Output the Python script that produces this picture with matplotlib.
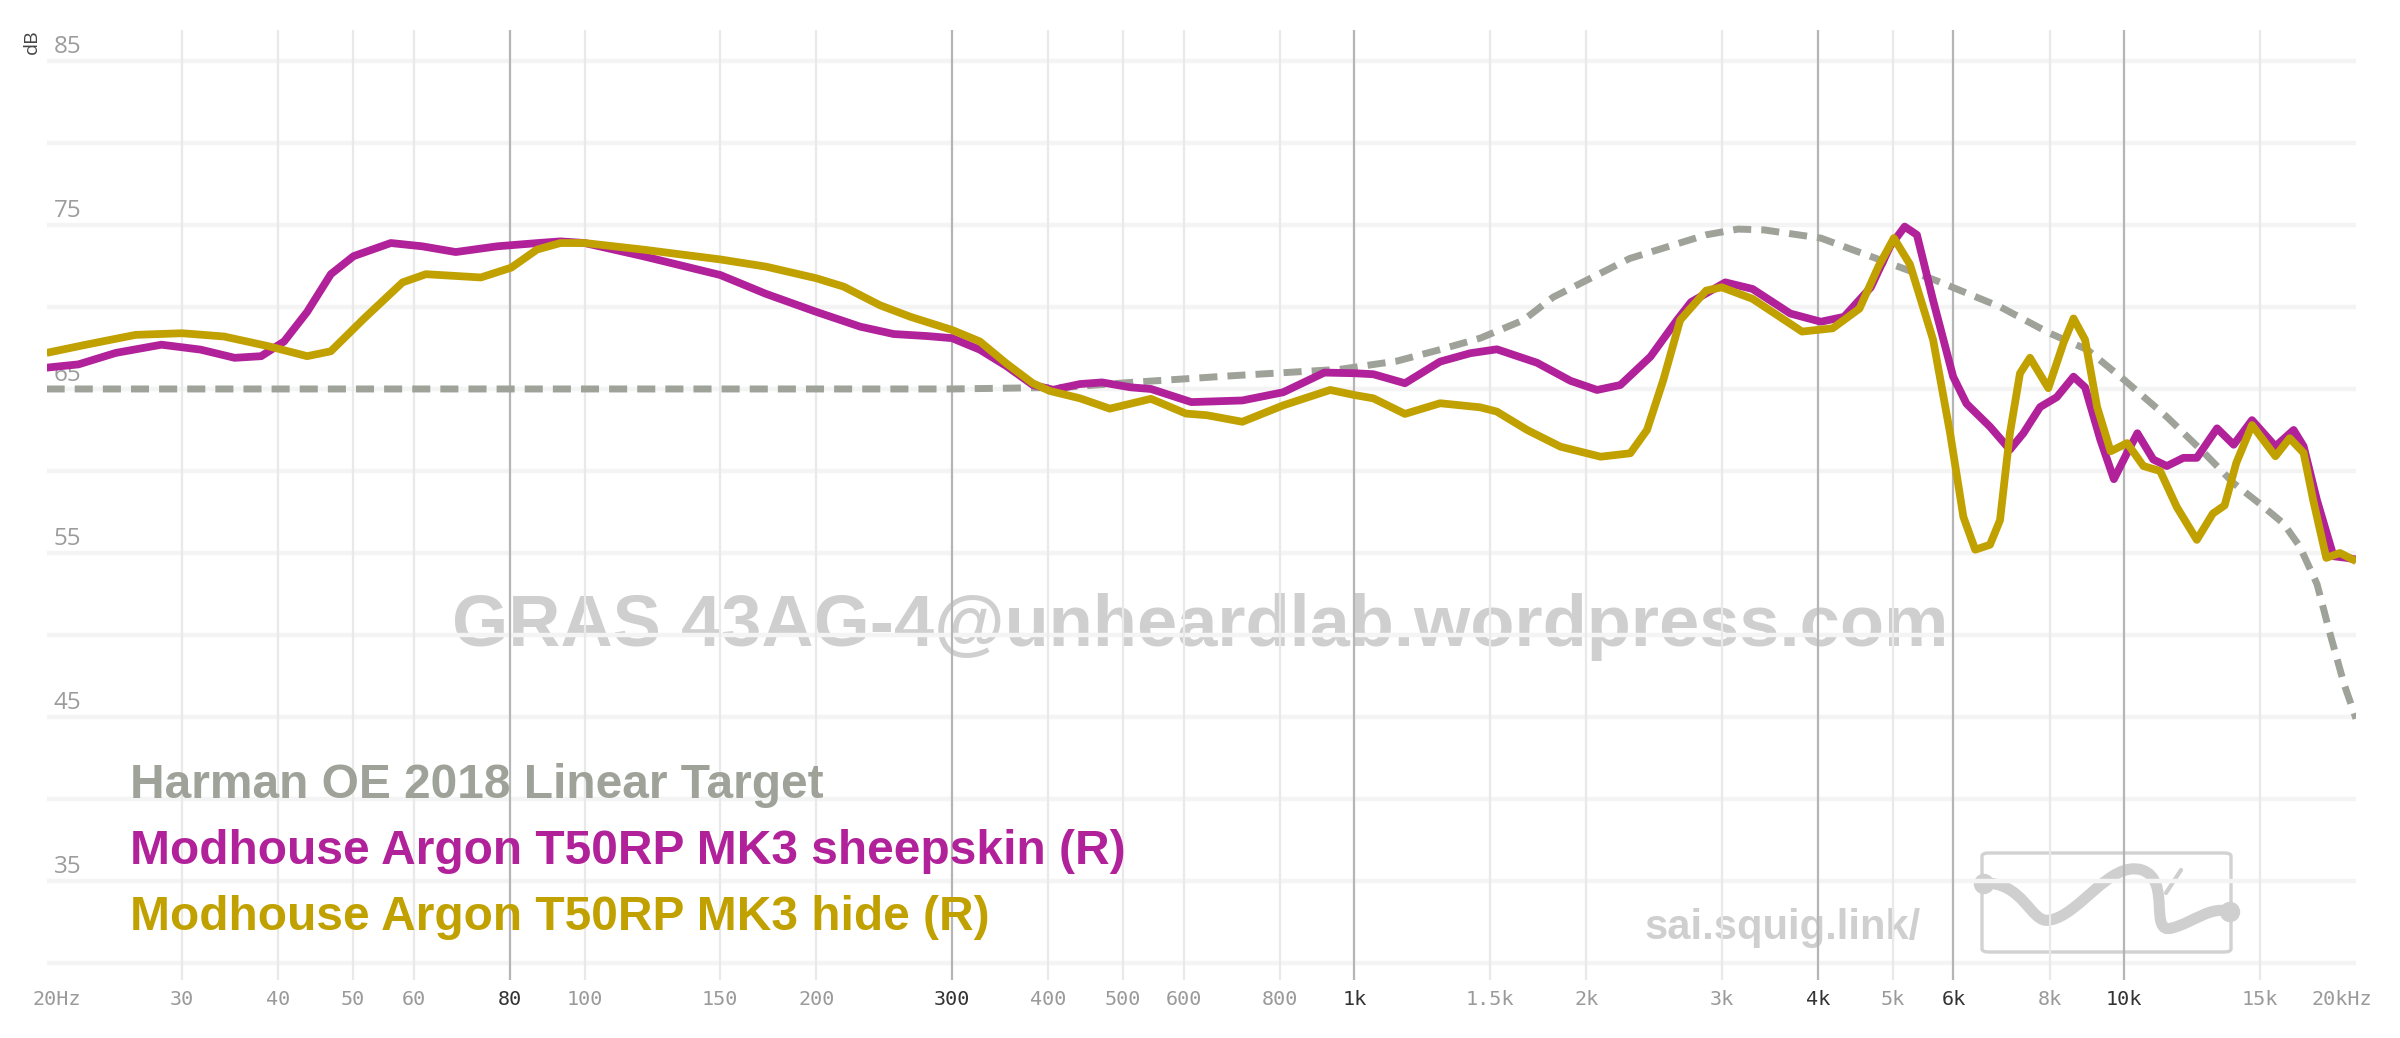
import matplotlib
matplotlib.use("Agg")
import matplotlib.pyplot as plt
from matplotlib.path import Path
from matplotlib.patches import PathPatch, FancyBboxPatch, Circle
from matplotlib.transforms import offset_copy, blended_transform_factory

# --- data (Hz, dB) ---
target_freq = [20, 300, 420, 512, 690, 958, 1135, 1292, 1457, 1658, 1812, 2279, 2864, 3150,
               3404, 4035, 4800, 5704, 6905, 8000, 8950, 10000, 11357, 12700, 13872, 15000,
               16100, 16900, 17800, 18500, 19300, 20000]
target_db = [65.0, 65.0, 65.1, 65.4, 65.8, 66.2, 66.7, 67.4, 68.1, 69.2, 70.6, 72.96, 74.4, 74.75,
             74.7, 74.2, 72.9, 71.6, 70.0, 68.4, 67.4, 65.55, 63.3, 61.1, 59.25, 58.0,
             56.8, 55.4, 53.1, 50.1, 47.0, 44.9]

sheep_freq = [20, 22, 24.6, 28.2, 31.7, 35.1, 38, 40.7, 43.6, 46.8,
              50.1, 56, 61.5, 68, 77, 87, 93, 100, 119, 150,
              172, 200, 228, 252, 278, 300, 326, 353, 382, 406,
              440, 470, 512, 544, 614, 715, 808, 914, 1000, 1058,
              1163, 1292, 1414, 1531, 1726, 1908, 2066, 2215, 2424, 2624,
              2737, 3032, 3289, 3683, 4035, 4325, 4686, 4964, 5185, 5378,
              5645, 5994, 6239, 6692, 7103, 7395, 7775, 8172, 8592, 8894,
              9310, 9694, 10085, 10400, 10906, 11357, 11936, 12424, 13199, 13872,
              14653, 15716, 16596, 17100, 17800, 18700, 19460, 20000]
sheep_db = [66.3, 66.5, 67.2, 67.7, 67.4, 66.9, 67.0, 67.9, 69.7, 72.0,
            73.1, 73.9, 73.7, 73.35, 73.7, 73.9, 74.0, 73.9, 73.1, 71.95,
            70.8, 69.7, 68.8, 68.35, 68.23, 68.1, 67.4, 66.4, 65.25, 64.95,
            65.3, 65.4, 65.1, 65.0, 64.2, 64.3, 64.8, 66.0, 65.96, 65.9,
            65.35, 66.67, 67.18, 67.42, 66.6, 65.5, 64.94, 65.24, 66.97, 69.2,
            70.3, 71.5, 71.1, 69.6, 69.1, 69.4, 71.2, 73.7, 74.9, 74.4,
            70.4, 65.75, 64.1, 62.7, 61.3, 62.3, 63.9, 64.5, 65.75, 65.1,
            61.9, 59.5, 61.1, 62.3, 60.7, 60.3, 60.8, 60.8, 62.6, 61.6,
            63.1, 61.5, 62.5, 61.5, 58.2, 54.8, 54.7, 54.6]

hide_freq = [20, 22.5, 26.1, 30, 34, 38.9, 43.6, 46.8, 51.7, 58,
             62.2, 73.3, 80.3, 86.7, 93, 100, 119, 150, 172, 200,
             217, 242, 265, 300, 326, 353, 382, 402, 440, 481,
             544, 604, 643, 715, 808, 930, 1000, 1058, 1163, 1292,
             1457, 1531, 1676, 1852, 2088, 2282, 2399, 2519, 2649, 2863,
             3000, 3289, 3814, 4180, 4529, 4797, 5020, 5267, 5645, 5940,
             6180, 6403, 6692, 6896, 7103, 7320, 7543, 7968, 8337, 8592,
             8894, 9220, 9600, 10085, 10588, 11132, 11701, 12424, 13032, 13500,
             13982, 14653, 15716, 16400, 17100, 17600, 18300, 19060, 20000]
hide_db = [67.2, 67.7, 68.3, 68.4, 68.2, 67.6, 67.0, 67.3, 69.3, 71.5,
           72.0, 71.8, 72.4, 73.5, 73.9, 73.9, 73.5, 72.9, 72.46, 71.75,
           71.24, 70.1, 69.4, 68.6, 67.9, 66.56, 65.35, 64.88, 64.43, 63.8,
           64.4, 63.5, 63.4, 63.0, 64.0, 64.94, 64.63, 64.43, 63.48, 64.13,
           63.88, 63.62, 62.5, 61.48, 60.87, 61.08, 62.5, 65.55, 69.2, 71.0,
           71.2, 70.5, 68.5, 68.7, 69.9, 72.5, 74.2, 72.6, 68.0, 62.3,
           57.2, 55.2, 55.5, 57.0, 62.3, 65.95, 66.9, 65.05, 67.8, 69.3,
           68.0, 63.9, 61.2, 61.7, 60.3, 60.0, 57.8, 55.8, 57.4, 57.9,
           60.5, 62.8, 60.9, 62.0, 61.1, 58.2, 54.7, 55.0, 54.5]

names = ["Harman OE 2018 Linear Target",
         "Modhouse Argon T50RP MK3 sheepskin (R)",
         "Modhouse Argon T50RP MK3 hide (R)"]

tick_freqs = [30, 40, 50, 60, 80, 100, 150, 200, 300, 400, 500, 600, 800,
              1000, 1500, 2000, 3000, 4000, 5000, 6000, 8000, 10000, 15000]
tick_labels = ["30", "40", "50", "60", "80", "100", "150", "200", "300", "400", "500",
               "600", "800", "1k", "1.5k", "2k", "3k", "4k", "5k", "6k", "8k", "10k", "15k"]
major_freqs = [80, 300, 1000, 4000, 6000, 10000]
db_grid = list(range(30, 90, 5))
db_labels = [35, 45, 55, 65, 75, 85]

TARGET = "#9ea299"
MAG = "#b0219a"
GOLD = "#c1a100"

W, H = 2400, 1038
fig = plt.figure(figsize=(W / 100, H / 100), dpi=100)
ax = fig.add_axes([46.6 / W, 58 / H, (2356 - 46.6) / W, 950 / H])
ax.set_xscale("log")
for s in ax.spines.values():
    s.set_visible(False)


def fx(x, y):
    # pixel position (top origin) -> figure fraction
    return x / W, (H - y) / H


# grid
for d in db_grid:
    ax.axhline(d, color="#f4f4f4", lw=3.2, zorder=0.6)
for f in tick_freqs:
    dark = f in major_freqs
    ax.axvline(f, color="#b5b5b5" if dark else "#e9e9e9", lw=1.6, zorder=1)

# x tick labels
ax.set_xticks(tick_freqs)
ax.set_xticklabels(tick_labels, family="DejaVu Sans Mono", fontsize=14.5)
ax.minorticks_off()
for lab, f in zip(ax.get_xticklabels(), tick_freqs):
    lab.set_color("#333333" if f in major_freqs else "#9a9a9a")
ax.tick_params(axis="x", length=0, pad=7)
ax.tick_params(axis="y", length=0, labelleft=False)
bt = blended_transform_factory(ax.transData, ax.transAxes)
ax.text(20, 0, "20Hz", transform=offset_copy(bt, fig, x=-14.5, y=-10, units="dots"),
        ha="left", va="top", family="DejaVu Sans Mono", fontsize=14.5, color="#9a9a9a")
ax.text(20000, 0, "20kHz", transform=offset_copy(bt, fig, x=16, y=-10, units="dots"),
        ha="right", va="top", family="DejaVu Sans Mono", fontsize=14.5, color="#9a9a9a")

# y labels
yt = blended_transform_factory(ax.transAxes, ax.transData)
for d in db_labels:
    ax.text(0.0032, d, str(d), transform=offset_copy(yt, fig, y=14, units="dots"),
            ha="left", va="center", family="Open Sans", fontsize=17.5, color="#9c9c9c")
fig.text(*fx(32, 42), "dB", rotation=90, ha="center", va="center",
         family="Open Sans", fontsize=14, color="#444444")

# watermarks
ax.text(*fx(1200, 627), "GRAS 43AG-4@unheardlab.wordpress.com", transform=fig.transFigure,
        ha="center", va="center", family="Liberation Sans", weight="bold",
        fontsize=52, color="#cfcfcf", zorder=0.5)
ax.text(*fx(1783, 928), "sai.squig.link/", transform=fig.transFigure,
        ha="center", va="center", family="Liberation Sans", weight="bold",
        fontsize=30, color="#cfcfcf", zorder=0.5)

# logo
x0, y0 = fx(1982, 952)
ax.add_patch(FancyBboxPatch((x0, y0), (2231 - 1982) / W, (952 - 853) / H,
                            boxstyle="round,pad=0,rounding_size=0.003",
                            transform=fig.transFigure, fill=False, ec="#d2d2d2",
                            lw=2.4, zorder=0.5, clip_on=False))


def inch(x, y):
    return x / 100, (H - y) / 100


verts = [inch(1980, 883),
         inch(2025, 880), inch(2030, 925), inch(2050, 920),
         inch(2080, 915), inch(2110, 860), inch(2142, 870),
         inch(2172, 880), inch(2148, 935), inch(2172, 928),
         inch(2195, 922), inch(2210, 905), inch(2232, 912)]
codes = [Path.MOVETO] + [Path.CURVE4] * 12
ax.add_patch(PathPatch(Path(verts, codes), transform=fig.dpi_scale_trans, fill=False,
                       ec="#cfcfcf", lw=8, capstyle="round", zorder=0.5, clip_on=False))
ax.add_patch(PathPatch(Path([inch(2166, 893), inch(2181, 870)]), transform=fig.dpi_scale_trans,
                       fill=False, ec="#cfcfcf", lw=3, capstyle="round", zorder=0.5, clip_on=False))
for cx, cy in [(1984, 884), (2230, 912)]:
    ax.add_patch(Circle(inch(cx, cy), 0.095, transform=fig.dpi_scale_trans,
                        color="#cfcfcf", zorder=0.5, clip_on=False))

# curves
ax.plot(target_freq, target_db, color=TARGET, lw=5.0, dashes=(2.6, 1.45),
        dash_capstyle="butt", zorder=3)
ax.plot(sheep_freq, sheep_db, color=MAG, lw=5.6, solid_joinstyle="round",
        solid_capstyle="butt", zorder=4)
ax.plot(hide_freq, hide_db, color=GOLD, lw=5.6, solid_joinstyle="round",
        solid_capstyle="butt", zorder=5)

ax.set_xlim(20, 20000)
ax.set_ylim(28.96, 86.89)

# legend
for name, col, yy in zip(names, [TARGET, MAG, GOLD], [786, 852, 918]):
    fig.text(*fx(130, yy), name, ha="left", va="center", family="Liberation Sans",
             weight="bold", fontsize=34.5, color=col, zorder=10)

fig.savefig("out.png", dpi=100, facecolor="white")
